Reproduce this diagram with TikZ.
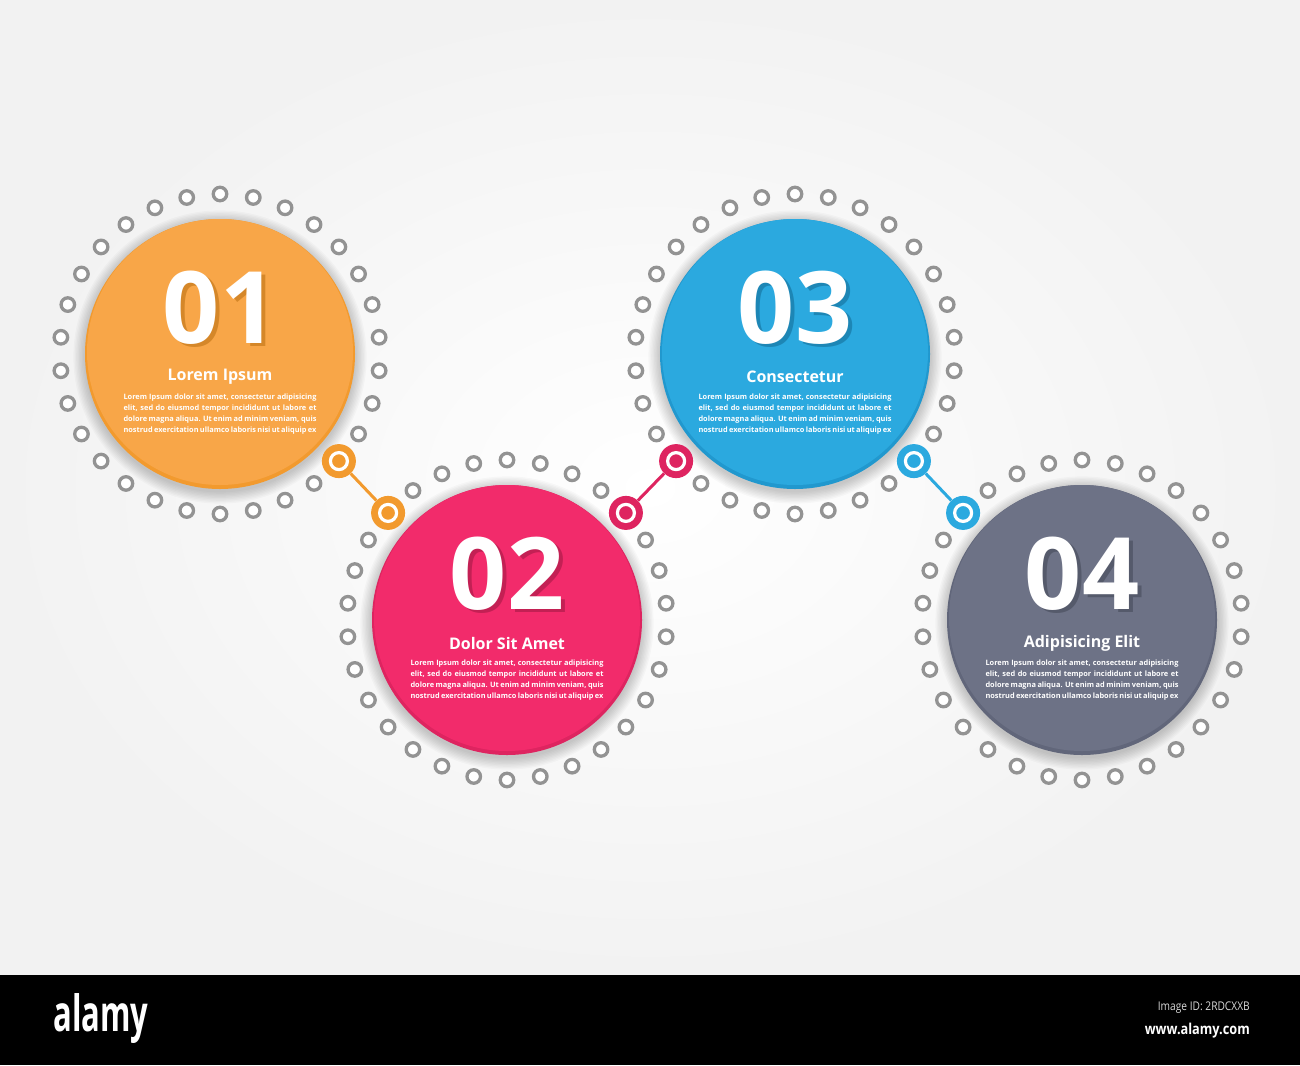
\documentclass[tikz,border=0pt]{standalone}
\usepackage{fontspec}
\setmainfont{Open Sans}
\usepackage{graphicx}
\usetikzlibrary{calc}
\definecolor{bgout}{HTML}{F2F2F2}
\definecolor{orangeM}{HTML}{F8A648}
\definecolor{orangeR}{HTML}{F29A2E}
\definecolor{pinkM}{HTML}{F22B6B}
\definecolor{pinkR}{HTML}{DE2460}
\definecolor{blueM}{HTML}{2BA9DF}
\definecolor{blueR}{HTML}{2198CE}
\definecolor{grayM}{HTML}{6D7286}
\definecolor{grayR}{HTML}{61667A}
\definecolor{dotgray}{HTML}{939393}
\tikzset{
  dotc/.style={circle, draw=dotgray, line width=3.3pt, fill=white, minimum size=13.5pt, inner sep=0pt},
  numtext/.style={font=\fontsize{100}{100}\selectfont\bfseries, text=white, inner sep=0pt},
  titletext/.style={font=\fontsize{16}{18}\selectfont\bfseries, text=white, inner sep=0pt},
  bodytext/.style={font=\fontsize{7.4}{11}\selectfont\bfseries, text=white, align=center, inner sep=0pt},
  conn/.style={circle, fill=#1, minimum size=34pt, inner sep=0pt,
    path picture={\draw[white, line width=3.2pt] (path picture bounding box.center) circle (8.5pt);}},
  connline/.style={line width=3pt, draw=#1}
}
\newcommand\drawstage[7]{%
  \foreach \i in {1,...,9}{\fill[black, opacity=0.022] (#2,#3+3) circle ({134pt+\i*1.4pt});}
  \foreach \a in {0,...,29}{\node[dotc] (#1d\a) at ($(#2,#3)+({90+12*\a}:160pt)$) {};}
  \node[circle, fill=#5, minimum size=270pt, inner sep=0pt] (#1rim) at (#2,#3) {};
  \node[circle, fill=#4, minimum size=266pt, inner sep=0pt] (#1) at (#2,#3-2) {};
  \node[numtext] (#1num) at (#2,#3-45) {\makebox[0pt][l]{\hspace{4pt}\raisebox{-3pt}{\color{#5!88!black}#6}}#6};
  \node[titletext] (#1title) at (#2,#3+23) {#7};
  \node[bodytext] (#1body) at (#2,#3+60) {%
    \makebox[193pt][s]{Lorem Ipsum dolor sit amet, consectetur adipisicing}\\
    \makebox[193pt][s]{elit, sed do eiusmod tempor incididunt ut labore et}\\
    \makebox[193pt][s]{dolore magna aliqua. Ut enim ad minim veniam, quis}\\
    \makebox[193pt][s]{nostrud exercitation ullamco laboris nisi ut aliquip ex}};
}
\begin{document}
\begin{tikzpicture}[x=1pt,y=-1pt]
\useasboundingbox (0,0) rectangle (1300,1065);
\shade[inner color=white, outer color=bgout] (0,0) rectangle (1300,975);
\fill[black] (0,975) rectangle (1300,1065);

\drawstage{c1}{220}{354}{orangeM}{orangeR}{01}{Lorem Ipsum}
\drawstage{c2}{507}{620}{pinkM}{pinkR}{02}{Dolor Sit Amet}
\drawstage{c3}{795}{354}{blueM}{blueR}{03}{Consectetur}
\drawstage{c4}{1082}{620}{grayM}{grayR}{04}{Adipisicing Elit}

\node[conn=orangeR] (k1) at (338.9,461.1) {};
\node[conn=orangeR] (k2) at (388.1,512.9) {};
\node[conn=pinkR] (k3) at (625.9,512.9) {};
\node[conn=pinkR] (k4) at (676.1,461.1) {};
\node[conn=blueM] (k5) at (913.9,461.1) {};
\node[conn=blueM] (k6) at (963.1,512.9) {};
\draw[connline=orangeR] (k1) -- (k2);
\draw[connline=pinkR] (k3) -- (k4);
\draw[connline=blueM] (k5) -- (k6);

\node[text=white, font=\fontsize{50}{50}\selectfont\bfseries, inner sep=0pt] (logo) at (101,1018) {\scalebox{0.62}[1]{alamy}};
\node[text=white!85!black, font=\fontsize{12}{12}\selectfont, anchor=east, inner sep=0pt] (imgid) at (1250,1008) {\scalebox{0.85}[1]{Image ID: 2RDCXXB}};
\node[text=white, font=\fontsize{15}{15}\selectfont\bfseries, anchor=east, inner sep=0pt] (www) at (1250,1031) {\scalebox{0.85}[1]{www.alamy.com}};
\end{tikzpicture}
\end{document}
